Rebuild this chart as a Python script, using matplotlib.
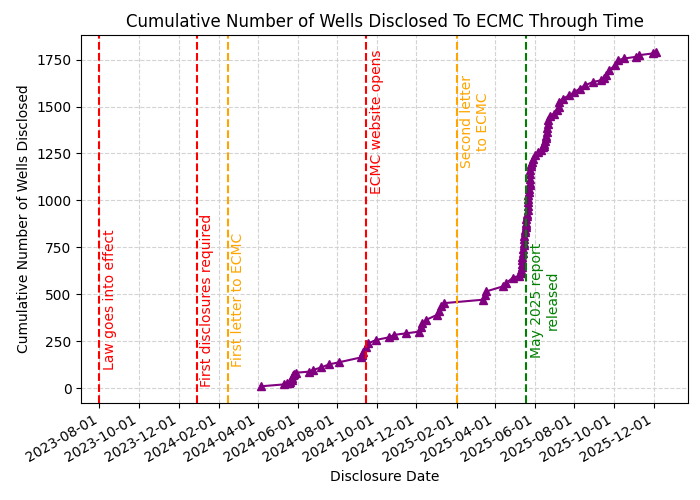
import numpy as np
import pandas as pd
import matplotlib
matplotlib.use('Agg')
import matplotlib.pyplot as plt
import matplotlib.dates as mdates

# fechas de divulgacion y conteo acumulado
dates = ['2024-04-06', '2024-05-11', '2024-05-16', '2024-05-19', '2024-05-21', '2024-05-23',
         '2024-05-24', '2024-05-25', '2024-05-27', '2024-05-29', '2024-06-19', '2024-06-24',
         '2024-07-07', '2024-07-20', '2024-08-04', '2024-09-07', '2024-09-08', '2024-09-09',
         '2024-09-14', '2024-09-18', '2024-09-30', '2024-10-20', '2024-10-28', '2024-11-15',
         '2024-12-05', '2024-12-08', '2024-12-10', '2024-12-16', '2025-01-02', '2025-01-05',
         '2025-01-08', '2025-01-13', '2025-03-13', '2025-03-16', '2025-03-18', '2025-04-13',
         '2025-04-18', '2025-04-28', '2025-05-08', '2025-05-11',
         '2025-05-11', '2025-05-12', '2025-05-12', '2025-05-13', '2025-05-13', '2025-05-14',
         '2025-05-14', '2025-05-15', '2025-05-15', '2025-05-16', '2025-05-16', '2025-05-17',
         '2025-05-17', '2025-05-18', '2025-05-18', '2025-05-19', '2025-05-19', '2025-05-20',
         '2025-05-20', '2025-05-21', '2025-05-21', '2025-05-22', '2025-05-22', '2025-05-22',
         '2025-05-23', '2025-05-23', '2025-05-24', '2025-05-24', '2025-05-24', '2025-05-25',
         '2025-05-25', '2025-05-26', '2025-05-26', '2025-05-27', '2025-05-29', '2025-06-02',
         '2025-06-06', '2025-06-10', '2025-06-13', '2025-06-15', '2025-06-16', '2025-06-17',
         '2025-06-18', '2025-06-19', '2025-06-20', '2025-06-20', '2025-06-21', '2025-06-22',
         '2025-06-24', '2025-07-01', '2025-07-06', '2025-07-08', '2025-07-09', '2025-07-14',
         '2025-07-24', '2025-08-01', '2025-08-09', '2025-08-17', '2025-08-30', '2025-09-11',
         '2025-09-15', '2025-09-19', '2025-09-24', '2025-10-02', '2025-10-07', '2025-10-17',
         '2025-11-04', '2025-11-09', '2025-11-30', '2025-12-05']
wells = [10, 20, 25, 30, 35, 45,
         55, 68, 75, 82, 88, 96,
         110, 127, 138, 164, 178, 190,
         221, 239, 257, 271, 284, 292,
         301, 325, 346, 364, 391, 410,
         435, 453, 471, 498, 515, 542,
         560, 587, 600, 614,
         630, 645, 660, 680, 700, 720,
         739, 760, 775, 795, 810, 830,
         845, 860, 870, 881, 900, 915,
         930, 950, 970, 990, 1010, 1030,
         1045, 1060, 1080, 1095, 1115, 1140,
         1160, 1185, 1195, 1205, 1220, 1240,
         1256, 1270, 1283, 1292, 1300, 1315,
         1330, 1345, 1365, 1385, 1408, 1430,
         1452, 1461, 1479, 1500, 1524, 1542,
         1559, 1577, 1595, 1613, 1631, 1640,
         1652, 1666, 1693, 1720, 1747, 1756,
         1765, 1774, 1783, 1792]

# eventos
event_dates = ['2023-08-01', '2023-12-29', '2024-02-15', '2024-09-15', '2025-02-01', '2025-05-19']
event_labels = ['Law goes into effect', 'First disclosures required', 'First letter to ECMC',
                'ECMC website opens', 'Second letter\nto ECMC', 'May 2025 report\nreleased']
event_colors = ['red', 'red', 'orange', 'red', 'orange', 'green']
event_text_y = [470, 470, 470, 1418, 1418, 470]

x = pd.to_datetime(dates)
ev = pd.to_datetime(event_dates)

fig, ax = plt.subplots(figsize=(7, 5), dpi=100)
ax.plot(x, wells, marker='^', color='purple', linewidth=1.5, markersize=6)

for d, lab, c, ty in zip(ev, event_labels, event_colors, event_text_y):
    ax.axvline(d, color=c, linestyle='--', linewidth=1.5)
    ax.text(d + pd.Timedelta(days=5), ty, lab, rotation=90, color=c,
            ha='left', va='center', multialignment='center', fontsize=10)

ax.set_xlim(pd.Timestamp('2023-07-04'), pd.Timestamp('2026-01-23'))
ax.xaxis.set_major_locator(mdates.MonthLocator(bymonth=[2, 4, 6, 8, 10, 12]))
ax.xaxis.set_major_formatter(mdates.DateFormatter('%Y-%m-%d'))
ax.grid(True, linestyle='--', color='lightgray')
ax.set_xlabel('Disclosure Date')
ax.set_ylabel('Cumulative Number of Wells Disclosed')
ax.set_title('Cumulative Number of Wells Disclosed To ECMC Through Time')
fig.autofmt_xdate()
fig.subplots_adjust(left=0.116, right=0.983, top=0.93, bottom=0.194)
fig.savefig('out.png')
